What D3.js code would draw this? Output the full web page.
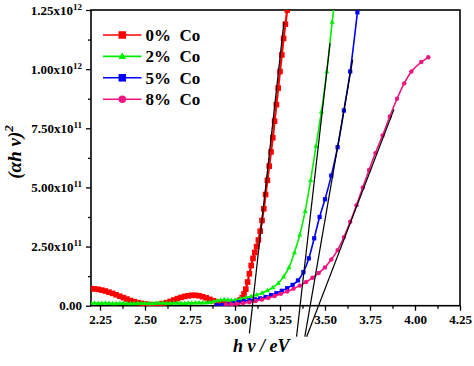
<!DOCTYPE html>
<html><head><meta charset="utf-8">
<script src="https://cdn.jsdelivr.net/npm/d3@7"></script>
<style>body{margin:0;background:#fff}svg{display:block}</style>
</head><body><svg id="c" width="474" height="366"></svg>
<script>
// values are in units of 1e10
const UNIT = 1e10;
const seriesNames = ["0%  Co", "2%  Co", "5%  Co", "8%  Co"];
const seriesColors = ["#ff0000", "#00ee00", "#0000ff", "#f01480"];
const seriesShapes = ["square", "triangle", "square", "circle"];

const redX = [2.20,2.22,2.24,2.26,2.28,2.30,2.32,2.34,2.36,2.38,2.40,2.42,2.44,2.46,2.48,2.50,2.52,2.54,2.56,2.58,2.60,2.62,2.64,2.66,2.68,2.70,2.72,2.74,2.76,2.78,2.80,2.82,2.84,2.86,2.88,2.90,2.92,2.94,2.96,2.98,3.00,3.01,3.02,3.03,3.04,3.05,3.06,3.07,3.08,3.09,3.10,3.11,3.12,3.13,3.14,3.15,3.16,3.17,3.18,3.19,3.20,3.21,3.22,3.23,3.24,3.25,3.26,3.27,3.28,3.29,3.30];
const redY = [7.2,7.1,6.9,6.6,6.2,5.7,5.2,4.6,4.0,3.4,2.8,2.2,1.7,1.3,1.0,0.7,0.5,0.4,0.4,0.6,0.9,1.3,1.8,2.4,3.0,3.5,3.9,4.2,4.4,4.4,4.2,3.8,3.3,2.7,2.1,1.5,1.0,0.7,0.6,0.8,1.2,1.5,1.9,2.5,3.4,5.0,7.0,10,13.5,17,20,22.5,25,27.8,31.5,36,41,47,53,59,65,71,78,85,92,99,106,113,119,125,132];

const greenX = [2.20,2.22,2.24,2.26,2.28,2.30,2.32,2.34,2.36,2.38,2.40,2.42,2.44,2.46,2.48,2.50,2.52,2.54,2.56,2.58,2.60,2.62,2.64,2.66,2.68,2.70,2.72,2.74,2.76,2.78,2.80,2.82,2.84,2.86,2.88,2.90,2.92,2.94,2.96,2.98,3.00,3.03,3.06,3.09,3.12,3.15,3.18,3.21,3.24,3.27,3.30,3.33,3.36,3.39,3.42,3.45,3.48,3.51,3.54,3.57];
const greenY = [1.2,1.2,1.1,1.1,1.2,1.1,1.0,1.0,1.1,1.1,1.0,1.0,1.0,1.1,1.1,1.1,1.0,1.0,1.1,1.2,1.2,1.1,1.1,1.2,1.2,1.1,1.1,1.2,1.2,1.3,1.3,1.3,1.4,1.5,1.8,2.1,2.4,2.6,2.5,2.3,2.4,3.0,3.5,4.0,4.6,5.4,6.4,7.7,9.5,12.3,16.2,22.5,30,40,53,67.5,82,99,120,140];

const blueX = [2.90,2.93,2.96,2.99,3.02,3.05,3.08,3.11,3.14,3.17,3.20,3.23,3.26,3.29,3.32,3.35,3.38,3.41,3.44,3.47,3.50,3.535,3.57,3.605,3.64,3.68];
const blueY = [0.2,0.3,0.5,1.0,1.5,1.9,2.3,2.7,3.1,3.7,4.5,5.3,6.3,7.4,8.8,10.7,14.2,20,28.5,37.5,45,55,67,82.5,99,124];

const pinkX = [2.95,2.98,3.01,3.045,3.08,3.115,3.15,3.185,3.22,3.255,3.29,3.325,3.36,3.395,3.43,3.465,3.50,3.535,3.57,3.605,3.64,3.675,3.71,3.745,3.78,3.82,3.86,3.90,3.94,3.98,4.035,4.074];
const pinkY = [0.4,0.6,0.8,1.1,1.5,2.0,2.6,3.3,4.1,5.0,6.0,7.2,8.5,10,11.8,13.8,16.2,19.5,23.5,29,35.5,42.5,50,57.4,64.5,72,80,87.5,94,99,103,105];

// linear fits: [xStart, yStart, xEnd, yEnd] in eV and 1e10 units
const fitRed   = [3.080, -11.7, 3.272, 120];
const fitGreen = [3.342, -13.1, 3.528, 111];
const fitBlue  = [3.388, -13.1, 3.654, 104];
const fitPink  = [3.398, -13.1, 3.883, 83];

const xTicks = [2.25, 2.50, 2.75, 3.00, 3.25, 3.50, 3.75, 4.00, 4.25];
const xTickLabels = ["2.25", "2.50", "2.75", "3.00", "3.25", "3.50", "3.75", "4.00", "4.25"];
const xMinor = [2.375, 2.625, 2.875, 3.125, 3.375, 3.625, 3.875, 4.125];
const yTicks = [0, 25, 50, 75, 100, 125];
const yTickMant = ["0.00", "2.50", "5.00", "7.50", "1.00", "1.25"];
const yTickExp = ["", "11", "11", "11", "12", "12"];
const yMinor = [12.5, 37.5, 62.5, 87.5, 112.5];

const svg = d3.select("#c");
const L = 91, R = 460, T = 10, B = 305.7;
const x = d3.scaleLinear().domain([2.2, 4.25]).range([L, R]);
const y = d3.scaleLinear().domain([0, 125]).range([B, T]);
const font = "'Liberation Serif','Times New Roman',serif";

svg.append("defs").append("clipPath").attr("id", "clip")
  .append("rect").attr("x", L).attr("y", T).attr("width", R - L).attr("height", B - T);

// axes
const gx = svg.append("g").attr("transform", `translate(0,${B})`)
  .call(d3.axisBottom(x).tickValues(xTicks).tickSize(5).tickPadding(4).tickFormat((d, i) => xTickLabels[i]));
svg.append("g").attr("transform", `translate(0,${B})`)
  .call(d3.axisBottom(x).tickValues(xMinor).tickSize(3).tickFormat(""));
const gy = svg.append("g").attr("transform", `translate(${L},0)`)
  .call(d3.axisLeft(y).tickValues(yTicks).tickSize(5).tickFormat(""));
svg.append("g").attr("transform", `translate(${L},0)`)
  .call(d3.axisLeft(y).tickValues(yMinor).tickSize(3).tickFormat(""));
svg.selectAll(".domain").remove();
svg.selectAll(".tick line").attr("stroke", "#000").attr("stroke-width", 1.3);
gx.selectAll("text").attr("font-family", font).attr("font-weight", "bold")
  .attr("font-size", 13).attr("fill", "#000");

yTicks.forEach((v, i) => {
  const t = svg.append("text").attr("x", 82).attr("y", y(v) + 4.5)
    .attr("text-anchor", "end").attr("font-family", font).attr("font-weight", "bold")
    .attr("font-size", 13).attr("fill", "#000");
  if (yTickExp[i]) {
    t.append("tspan").text(yTickMant[i] + "x10");
    t.append("tspan").attr("dy", -5).attr("font-size", 9).text(yTickExp[i]);
  } else {
    t.text(yTickMant[i]);
  }
});

// frame
svg.append("rect").attr("x", L).attr("y", T).attr("width", R - L).attr("height", B - T)
  .attr("fill", "none").attr("stroke", "#000").attr("stroke-width", 1.6);

// series
const series = [[redX, redY], [greenX, greenY], [blueX, blueY], [pinkX, pinkY]];
const line = d3.line().x(d => x(d[0])).y(d => y(d[1])).curve(d3.curveMonotoneX);
const plot = svg.append("g").attr("clip-path", "url(#clip)");

function drawMarker(g, shape, cx, cy, s, color) {
  if (shape === "square") {
    g.append("rect").attr("x", cx - s / 2).attr("y", cy - s / 2).attr("width", s).attr("height", s).attr("fill", color);
  } else if (shape === "triangle") {
    const h = s * 0.9;
    g.append("path").attr("d", `M${cx},${cy - h * 0.6}L${cx + s / 2},${cy + h * 0.4}L${cx - s / 2},${cy + h * 0.4}Z`).attr("fill", color);
  } else {
    g.append("circle").attr("cx", cx).attr("cy", cy).attr("r", s / 2).attr("fill", color);
  }
}
const markerSizes = [5.6, 5, 4.2, 4.4];
const lineWidths = [2.2, 1.6, 1.6, 1.6];

series.forEach(([xs, ys], i) => {
  const pts = xs.map((v, k) => [v, ys[k]]);
  plot.append("path").datum(pts).attr("d", line).attr("fill", "none")
    .attr("stroke", seriesColors[i]).attr("stroke-width", lineWidths[i]);
  const mg = plot.append("g");
  pts.forEach(p => drawMarker(mg, seriesShapes[i], x(p[0]), y(p[1]), markerSizes[i], seriesColors[i]));
});

// fit lines (not clipped, extend below axis)
[fitRed, fitGreen, fitBlue, fitPink].forEach(f => {
  svg.append("line").attr("x1", x(f[0])).attr("y1", y(f[1])).attr("x2", x(f[2])).attr("y2", y(f[3]))
    .attr("stroke", "#000").attr("stroke-width", 1.2);
});

// legend
const legY0 = 35, legDy = 21.4;
seriesNames.forEach((name, i) => {
  const yy = legY0 + i * legDy;
  const g = svg.append("g");
  g.append("line").attr("x1", 103).attr("x2", 141.5).attr("y1", yy).attr("y2", yy)
    .attr("stroke", seriesColors[i]).attr("stroke-width", 1.6);
  drawMarker(g, seriesShapes[i], 122.3, yy, 7.5, seriesColors[i]);
  g.append("text").attr("x", 145.5).attr("y", yy + 5.8).attr("font-family", font)
    .attr("font-weight", "bold").attr("font-size", 17).attr("fill", "#000")
    .style("white-space", "pre").text(name);
});

// axis titles
svg.append("text").attr("x", 233).attr("y", 352).attr("font-family", font)
  .attr("font-weight", "bold").attr("font-style", "italic").attr("font-size", 18)
  .attr("fill", "#000").style("white-space", "pre").text("h ν / eV");

const yt = svg.append("text").attr("transform", "translate(21,152) rotate(-90)")
  .attr("text-anchor", "middle").attr("font-family", font).attr("font-weight", "bold")
  .attr("font-style", "italic").attr("font-size", 19).attr("fill", "#000")
  .style("white-space", "pre");
yt.append("tspan").text("(αh ν)");
yt.append("tspan").attr("dy", -8).attr("font-size", 13).text("2");
</script>
</body></html>
